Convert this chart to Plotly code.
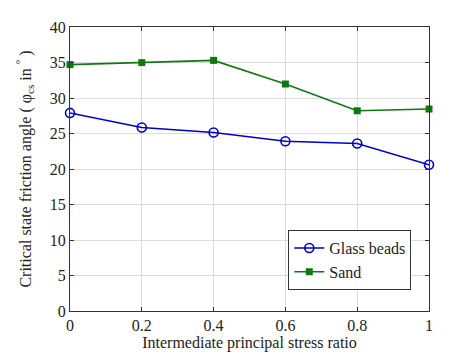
import plotly.graph_objects as go

x_vals = [0, 0.2, 0.4, 0.6, 0.8, 1.0]
glass_beads = [27.9, 25.85, 25.15, 23.9, 23.6, 20.6]
sand = [34.7, 34.98, 35.3, 31.97, 28.2, 28.45]
x_ticks = [0, 0.2, 0.4, 0.6, 0.8, 1]
x_tick_text = ["0", "0.2", "0.4", "0.6", "0.8", "1"]
y_ticks = [0, 5, 10, 15, 20, 25, 30, 35, 40]

font = "Liberation Serif, Times New Roman, serif"

fig = go.Figure()
fig.add_trace(go.Scatter(
    x=x_vals, y=glass_beads, name="Glass beads", mode="lines+markers",
    line=dict(color="#0000cc", width=1.6),
    marker=dict(symbol="circle-open", size=9, color="#0000cc", line=dict(width=1.6)),
    cliponaxis=False,
))
fig.add_trace(go.Scatter(
    x=x_vals, y=sand, name="Sand", mode="lines+markers",
    line=dict(color="#107810", width=1.6),
    marker=dict(symbol="square", size=7, color="#107810"),
    cliponaxis=False,
))

axis_common = dict(
    showline=True, linecolor="#333333", linewidth=1, mirror="allticks",
    ticks="inside", ticklen=4, tickcolor="#333333",
    showgrid=True, gridcolor="#dcdcdc", gridwidth=1, zeroline=False,
    tickfont=dict(family=font, size=16, color="#222222"),
    automargin=False,
)

fig.update_layout(
    width=466, height=347,
    margin=dict(l=61.5, r=45, t=18.5, b=44),
    paper_bgcolor="white", plot_bgcolor="white",
    font=dict(family=font, color="#222222"),
    showlegend=True,
    legend=dict(
        x=0.608, y=0.285, xanchor="left", yanchor="top",
        bgcolor="white", bordercolor="#333333", borderwidth=1,
        font=dict(family=font, size=16, color="#222222"),
        itemwidth=30, tracegroupgap=0,
    ),
    xaxis=dict(
        range=[0, 1], tickvals=x_ticks, ticktext=x_tick_text,
        title=dict(text="Intermediate principal stress ratio", font=dict(family=font, size=16), standoff=0),
        **axis_common,
    ),
    yaxis=dict(
        range=[0, 40], tickvals=y_ticks,
        title=dict(text="Critical state friction angle ( φ<sub>cs</sub> in <sup>°</sup> )",
                   font=dict(family=font, size=16), standoff=14),
        **axis_common,
    ),
)

fig.write_html("out.html")
